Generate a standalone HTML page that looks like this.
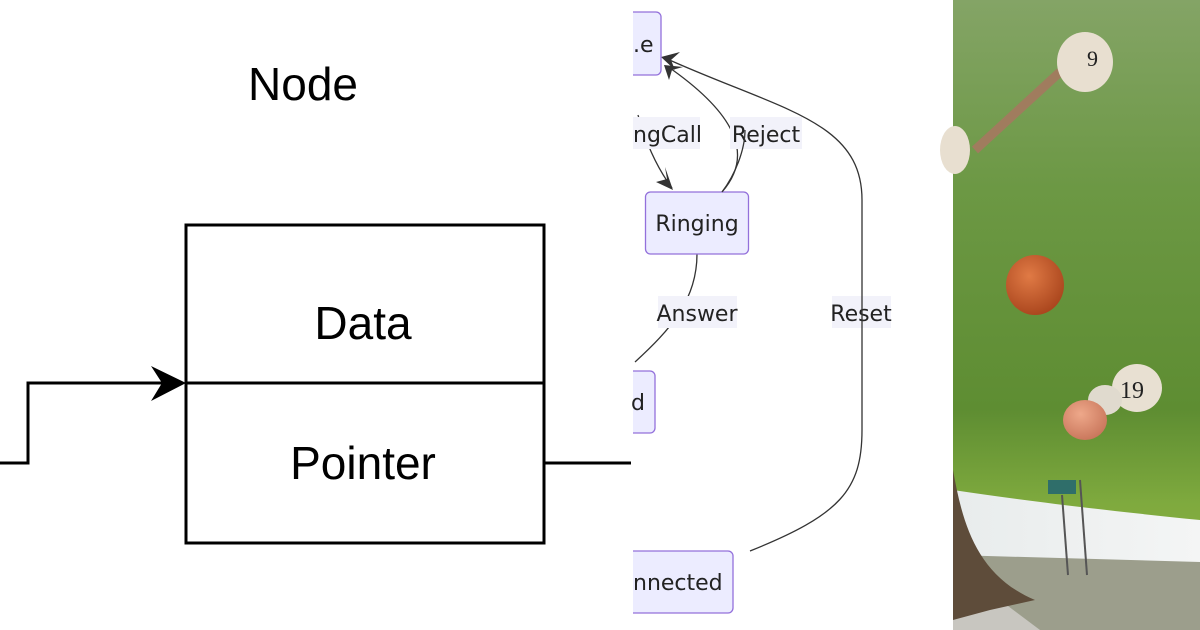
<!DOCTYPE html>
<html><head><meta charset="utf-8"><style>
html,body{margin:0;padding:0;background:#fff;}
svg{display:block}
.m{font-family:"DejaVu Sans","Liberation Sans",sans-serif;font-size:22px;fill:#222;}
</style></head><body>
<svg width="1200" height="630" viewBox="0 0 1200 630" xmlns="http://www.w3.org/2000/svg">
<defs>
<linearGradient id="tree" x1="0" y1="0" x2="0" y2="1">
<stop offset="0" stop-color="#84a466"/><stop offset="0.3" stop-color="#6c9844"/><stop offset="0.65" stop-color="#5e8d32"/><stop offset="0.8" stop-color="#7faa3e"/><stop offset="1" stop-color="#8fb24a"/>
</linearGradient>
<linearGradient id="sky" x1="0" y1="0" x2="1" y2="0"><stop offset="0" stop-color="#e8ecec"/><stop offset="1" stop-color="#f4f5f5"/></linearGradient>
<radialGradient id="orange" cx="0.4" cy="0.35" r="0.7"><stop offset="0" stop-color="#e07a45"/><stop offset="1" stop-color="#a8441c"/></radialGradient>
<radialGradient id="peach" cx="0.4" cy="0.35" r="0.7"><stop offset="0" stop-color="#eea88a"/><stop offset="1" stop-color="#c8755a"/></radialGradient>
</defs>
<!-- left panel -->
<text x="303" y="100" text-anchor="middle" font-family="Liberation Sans,sans-serif" font-size="46" fill="#000">Node</text>
<rect x="186" y="225" width="358" height="318" fill="none" stroke="#000" stroke-width="3"/>
<line x1="186" y1="383" x2="544" y2="383" stroke="#000" stroke-width="3"/>
<text x="363" y="339" text-anchor="middle" font-family="Liberation Sans,sans-serif" font-size="46" fill="#000">Data</text>
<text x="363" y="479" text-anchor="middle" font-family="Liberation Sans,sans-serif" font-size="46" fill="#000">Pointer</text>
<polyline points="0,463 28,463 28,383 170,383" fill="none" stroke="#000" stroke-width="3"/>
<polygon points="186,383 151,366 162,383 151,401" fill="#000"/>
<line x1="544" y1="463" x2="631" y2="463" stroke="#000" stroke-width="3"/>
<!-- middle panel -->
<g fill="none" stroke="#333" stroke-width="1.3">
<path d="M750,551 C840,515 862,490 862,430 L862,200 C862,120 780,110 665,58"/>
<path d="M722,192 C750,160 745,120 667,66"/>
<path d="M638,115 C645,140 655,165 672,188"/>
<path d="M697,254 C697,300 670,330 635,362"/>
</g>
<g fill="#333">
<polygon points="661,57 680,52 671,60 675,70"/>
<polygon points="664,65 683,67 672,70 669,80"/>
<polygon points="673,190 656,182 667,179 665,167"/>
</g>
<path d="M633,12 H656 a5,5 0 0 1 5,5 V70 a5,5 0 0 1 -5,5 H633 Z" fill="#ececff"/>
<path d="M633,12 H656 a5,5 0 0 1 5,5 V70 a5,5 0 0 1 -5,5 H633" fill="none" stroke="#9370db" stroke-width="1.3"/>
<text x="633" y="52" class="m">.e</text>
<rect x="645.5" y="192" width="103" height="62" rx="5" fill="#ececff" stroke="#9370db" stroke-width="1.3"/>
<text x="697" y="231" text-anchor="middle" class="m">Ringing</text>
<path d="M633,371 H650 a5,5 0 0 1 5,5 V428 a5,5 0 0 1 -5,5 H633 Z" fill="#ececff"/>
<path d="M633,371 H650 a5,5 0 0 1 5,5 V428 a5,5 0 0 1 -5,5 H633" fill="none" stroke="#9370db" stroke-width="1.3"/>
<text x="631" y="410" class="m">d</text>
<path d="M633,551 H728 a5,5 0 0 1 5,5 V608 a5,5 0 0 1 -5,5 H633 Z" fill="#ececff"/>
<path d="M633,551 H728 a5,5 0 0 1 5,5 V608 a5,5 0 0 1 -5,5 H633" fill="none" stroke="#9370db" stroke-width="1.3"/>
<text x="633" y="590" class="m">nnected</text>
<rect x="633" y="117" width="67" height="32" fill="#f2f2fa"/>
<text x="633" y="142" class="m">ngCall</text>
<rect x="730" y="117" width="72" height="32" fill="#f2f2fa"/>
<text x="766" y="142" text-anchor="middle" class="m">Reject</text>
<rect x="658" y="296" width="79" height="32" fill="#f2f2fa"/>
<text x="697" y="321" text-anchor="middle" class="m">Answer</text>
<rect x="832" y="296" width="59" height="32" fill="#f2f2fa"/>
<text x="861" y="321" text-anchor="middle" class="m">Reset</text>
<g fill="none" stroke="#333" stroke-width="1.3">
<path d="M745,130 C745,150 735,175 722,192"/>
<path d="M862,296 L862,328"/>
</g>
<!-- right photo -->
<rect x="953" y="0" width="247" height="630" fill="url(#tree)"/>
<path d="M953,490 C1020,500 1100,510 1200,520 L1200,565 L953,555 Z" fill="url(#sky)"/>
<path d="M953,555 L1200,562 L1200,630 L953,630 Z" fill="#9c9e8c"/>
<path d="M953,605 L1000,600 L1040,630 L953,630 Z" fill="#c8c6c0"/>
<path d="M953,470 C962,520 975,575 1035,600 L990,610 L953,620 Z" fill="#5e4c3a"/>
<line x1="975" y1="150" x2="1060" y2="72" stroke="#a07c5e" stroke-width="9"/>
<ellipse cx="1085" cy="62" rx="28" ry="30" fill="#e8dfd0"/>
<text x="1087" y="66" font-family="Liberation Serif,serif" font-size="22" fill="#222">9</text>
<ellipse cx="955" cy="150" rx="15" ry="24" fill="#e8dfd0"/>
<ellipse cx="1035" cy="285" rx="29" ry="30" fill="url(#orange)"/>
<ellipse cx="1137" cy="388" rx="25" ry="24" fill="#e8e0d2"/>
<text x="1120" y="398" font-family="Liberation Serif,serif" font-size="24" fill="#222">19</text>
<ellipse cx="1105" cy="400" rx="17" ry="15" fill="#e0dace"/>
<ellipse cx="1085" cy="420" rx="22" ry="20" fill="url(#peach)"/>
<rect x="1048" y="480" width="28" height="14" fill="#2f6e6a"/>
<line x1="1062" y1="495" x2="1068" y2="575" stroke="#555" stroke-width="2"/>
<line x1="1080" y1="480" x2="1087" y2="575" stroke="#555" stroke-width="2"/>
</svg>
</body></html>
